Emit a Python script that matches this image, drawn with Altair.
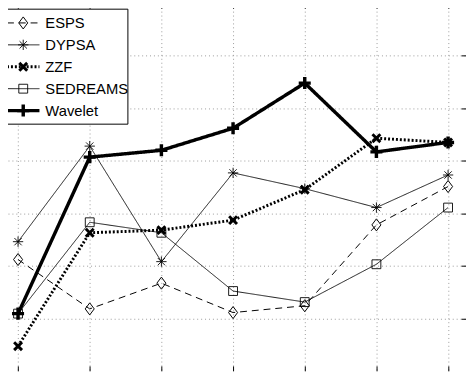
import altair as alt
import pandas as pd

x_pos = [1, 2, 3, 4, 5, 6, 7]
y_ticks = [1, 2, 3, 4, 5, 6]
series_names = ["ESPS", "DYPSA", "ZZF", "SEDREAMS", "Wavelet"]

esps = [2.12, 1.18, 1.67, 1.11, 1.24, 2.78, 3.51]
dypsa = [2.46, 4.28, 2.08, 3.77, 3.47, 3.11, 3.73]
zzf = [0.47, 2.63, 2.68, 2.87, 3.45, 4.43, 4.35]
sedreams = [1.09, 2.83, 2.63, 1.52, 1.31, 2.03, 3.11]
wavelet = [1.09, 4.07, 4.20, 4.62, 5.48, 4.17, 4.35]

values = {"ESPS": esps, "DYPSA": dypsa, "ZZF": zzf,
          "SEDREAMS": sedreams, "Wavelet": wavelet}

rows = []
for name in series_names:
    for xv, v in zip(x_pos, values[name]):
        rows.append({"series": name, "x": xv, "v": v})
df = pd.DataFrame(rows)
leg = pd.DataFrame({"series": series_names, "idx": list(range(len(series_names)))})

# styles
dash_range = [[7, 5], [1, 0], [2, 2], [1, 0], [1, 0]]
line_w = [1, 0.9, 3, 0.9, 3.5]
shapes = [
    "M-0.75,0L0,-1L0.75,0L0,1Z",
    "M-1,0L1,0M0,-1L0,1M-0.71,-0.71L0.71,0.71M-0.71,0.71L0.71,-0.71",
    "M-1,-1L1,1M-1,1L1,-1",
    "M-1,-1L1,-1L1,1L-1,1Z",
    "M-1,0L1,0M0,-1L0,1",
]
sizes = [150, 110, 64, 81, 150]
pt_w = [0.9, 0.9, 3.2, 0.9, 3]

X_DOM = [0.75, 7.25]
Y_DOM = [0, 7]
xs = alt.Scale(domain=X_DOM, nice=False, zero=False)
ys = alt.Scale(domain=Y_DOM, nice=False, zero=False)

dash_s = alt.StrokeDash("series:N", scale=alt.Scale(domain=series_names, range=dash_range), legend=None)
shape_s = alt.Shape("series:N", scale=alt.Scale(domain=series_names, range=shapes), legend=None)
size_s = alt.Size("series:N", scale=alt.Scale(type="ordinal", domain=series_names, range=sizes), legend=None)


def lw_s():
    return alt.StrokeWidth("series:N", scale=alt.Scale(type="ordinal", domain=series_names, range=line_w), legend=None)


def pw_s():
    return alt.StrokeWidth("series:N", scale=alt.Scale(type="ordinal", domain=series_names, range=pt_w), legend=None)


def ax(orient, vals, grid):
    return alt.Axis(orient=orient, values=vals, grid=grid, gridDash=[1, 3],
                    gridColor="#9a9a9a", gridWidth=1, ticks=True, tickSize=5,
                    tickColor="black", tickWidth=1, domain=False, labels=False,
                    title=None, offset=-5)


lines = alt.Chart(df).mark_line(color="black", strokeCap="butt").encode(
    x=alt.X("x:Q", scale=xs, axis=ax("bottom", x_pos, True)),
    y=alt.Y("v:Q", scale=ys, axis=ax("left", y_ticks, True)),
    detail="series:N",
    strokeDash=dash_s,
    strokeWidth=lw_s(),
)

points = alt.Chart(df).mark_point(filled=False, color="black", opacity=1).encode(
    x=alt.X("x:Q", scale=xs, axis=ax("top", x_pos, False)),
    y=alt.Y("v:Q", scale=ys, axis=ax("right", y_ticks, False)),
    shape=shape_s,
    size=size_s,
    strokeWidth=pw_s(),
)

box_df = pd.DataFrame({"a": [0]})
box = alt.Chart(box_df).mark_rect(fill="white", stroke="black", strokeWidth=1).encode(
    x=alt.value(3.5), x2=alt.value(130), y=alt.value(6), y2=alt.value(123)
)

leg_base = alt.Chart(leg).transform_calculate(ly="20 + 22.3*datum.idx")

leg_lines = leg_base.mark_rule(color="black", strokeCap="butt").encode(
    x=alt.value(7), x2=alt.value(40),
    y=alt.Y("ly:Q", scale=None, axis=None),
    strokeDash=dash_s,
    strokeWidth=lw_s(),
)
leg_pts = leg_base.mark_point(filled=False, color="black", opacity=1).encode(
    x=alt.value(23.5),
    y=alt.Y("ly:Q", scale=None, axis=None),
    shape=shape_s,
    size=size_s,
    strokeWidth=pw_s(),
)
leg_text = leg_base.mark_text(align="left", baseline="middle", font="Liberation Sans",
                              fontSize=15, color="black").encode(
    x=alt.value(46),
    y=alt.Y("ly:Q", scale=None, axis=None),
    text="series:N",
)

chart = alt.layer(lines, points, box, leg_lines, leg_pts, leg_text).resolve_axis(
    x="independent", y="independent"
).properties(
    width=474, height=374,
    padding={"left": -8, "top": -8, "right": 0, "bottom": 0},
    autosize="none"
).configure_view(stroke=None)

chart.save("out.html", embed_options={"renderer": "svg", "actions": False})
